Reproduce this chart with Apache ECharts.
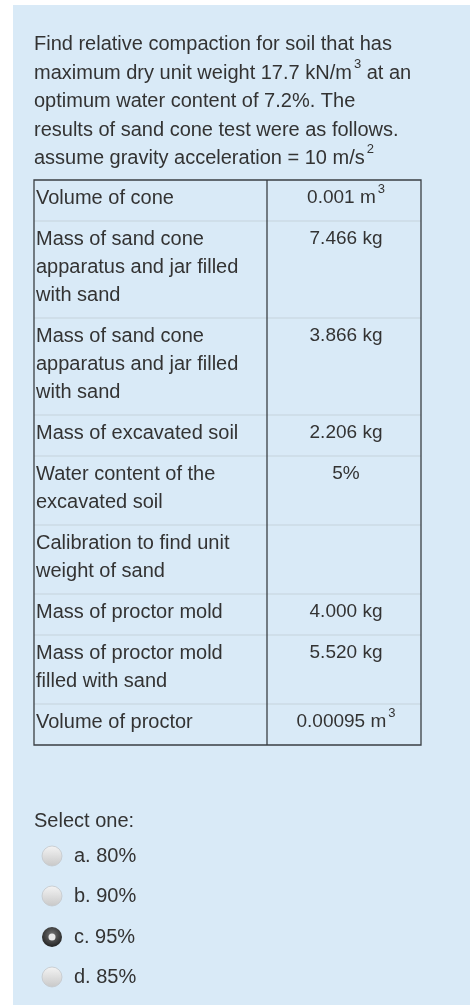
<!DOCTYPE html>
<html><head><meta charset="utf-8">
<script src="https://cdn.jsdelivr.net/npm/echarts@6/dist/echarts.min.js"></script>
<style>html,body{margin:0;padding:0;background:#fff}#c{width:470px;height:1008px}</style>
</head><body><div id="c"></div>
<script>
var questionLines = [
  "Find relative compaction for soil that has",
  "maximum dry unit weight 17.7 kN/m{s|3} at an",
  "optimum water content of 7.2%. The",
  "results of sand cone test were as follows.",
  "assume gravity acceleration = 10 m/s{s|2}"
];
var rowLabels = [
  ["Volume of cone"],
  ["Mass of sand cone","apparatus and jar filled","with sand"],
  ["Mass of sand cone","apparatus and jar filled","with sand"],
  ["Mass of excavated soil"],
  ["Water content of the","excavated soil"],
  ["Calibration to find unit","weight of sand"],
  ["Mass of proctor mold"],
  ["Mass of proctor mold","filled with sand"],
  ["Volume of proctor"]
];
var rowValues = ["0.001 m{s|3}","7.466 kg","3.866 kg","2.206 kg","5%","","4.000 kg","5.520 kg","0.00095 m{s|3}"];
var options = ["a. 80%","b. 90%","c. 95%","d. 85%"];
var selected = 2;

var chart = echarts.init(document.getElementById('c'));
var F = 'Helvetica, Arial, "Liberation Sans", sans-serif';
var rich = {s:{fontSize:13, verticalAlign:'top', padding:[0,0,18,2], fill:'#333', fontFamily:F}};
var els = [];
els.push({type:'rect', shape:{x:13,y:5,width:470,height:1000}, style:{fill:'#d9eaf7'}});
questionLines.forEach(function(t,i){
  els.push({type:'text', x:34, y:[44,73,101,130,158][i], style:{text:t, rich:rich, fill:'#333', font:'20px '+F, verticalAlign:'middle'}});
});
var L=34,M=267,R=421,y=180;
var lines=[];
rowLabels.forEach(function(lab,i){
  var h=13+28*lab.length;
  lab.forEach(function(t,j){
    els.push({type:'text', x:L+2, y:y+18+28*j, style:{text:t, fill:'#333', font:'20px '+F, verticalAlign:'middle'}});
  });
  els.push({type:'text', x:(M+R)/2+2, y:y+18, style:{text:rowValues[i], rich:rich, fill:'#333', font:'19px '+F, align:'center', verticalAlign:'middle'}});
  y+=h;
  if(i<rowLabels.length-1) lines.push(y);
});
lines.forEach(function(ly){
  els.push({type:'line', shape:{x1:L,y1:ly,x2:R,y2:ly}, style:{stroke:'#c5d3dc',lineWidth:1}});
});
els.push({type:'rect', shape:{x:L,y:180,width:R-L,height:y-180}, style:{fill:'none',stroke:'#3a3f44',lineWidth:1.3}});
els.push({type:'line', shape:{x1:M,y1:180,x2:M,y2:y}, style:{stroke:'#3a3f44',lineWidth:1.3}});
els.push({type:'text', x:34, y:821, style:{text:'Select one:', fill:'#333', font:'20px '+F, verticalAlign:'middle'}});
options.forEach(function(o,i){
  var cy=[856,896,937,977][i];
  if(i===selected){
    els.push({type:'circle', shape:{cx:52,cy:cy,r:10}, style:{fill:{type:'radial',x:0.5,y:0.4,r:0.6,colorStops:[{offset:0,color:'#777'},{offset:1,color:'#222'}]}}});
    els.push({type:'circle', shape:{cx:52,cy:cy,r:3.5}, style:{fill:'#e8e8e8'}});
  } else {
    els.push({type:'circle', shape:{cx:52,cy:cy,r:10}, style:{fill:{type:'linear',x:0,y:0,x2:0,y2:1,colorStops:[{offset:0,color:'#f4f4f4'},{offset:1,color:'#c8c8c8'}]}, stroke:'#c4c8cc', lineWidth:0.8}});
  }
  els.push({type:'text', x:74, y:cy, style:{text:o, fill:'#333', font:'20px '+F, verticalAlign:'middle'}});
});
chart.setOption({animation:false, graphic:{elements:els}});
</script></body></html>
